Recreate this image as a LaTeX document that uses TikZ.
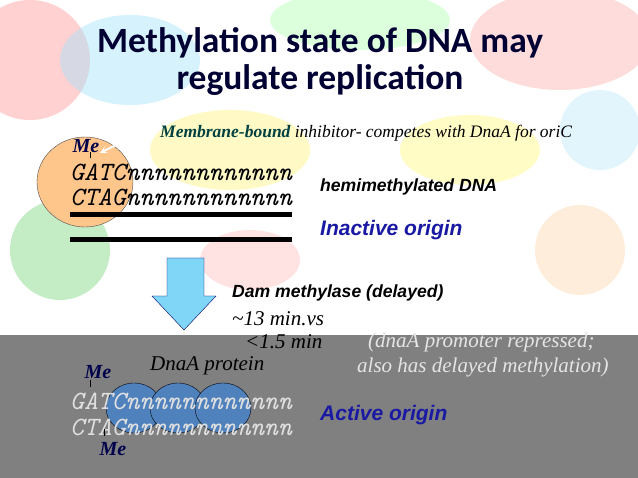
\documentclass[tikz,border=0pt]{standalone}
\usetikzlibrary{shapes.geometric}
\usepackage{fontspec}
\setmainfont{Liberation Serif}
\setsansfont{Liberation Sans}
\newfontfamily\titlefont{Carlito}
\definecolor{bgray}{HTML}{808080}
\definecolor{dblue}{HTML}{4F81BD}
\begin{document}
\begin{tikzpicture}[x=1pt,y=-1pt,
  deco/.style={opacity=0.45},
  ser/.style={font=\itshape\fontsize{21}{22}\selectfont,anchor=west,inner sep=0},
  dna/.style={font=\ttfamily\itshape\fontsize{26.4}{27}\selectfont,anchor=west,inner sep=0},
  lab/.style={font=\sffamily\bfseries\itshape\fontsize{17.6}{18}\selectfont,anchor=west,inner sep=0},
  org/.style={font=\sffamily\bfseries\itshape\fontsize{21}{22}\selectfont,anchor=west,inner sep=0,text=blue!60!black!90},
  me/.style={font=\bfseries\itshape\fontsize{20}{21}\selectfont,inner sep=0,text=blue!30!black}]
\useasboundingbox (0,0) rectangle (638,478);
\fill[white] (0,0) rectangle (638,335);
% decorative background
\fill[deco,red!80] (30,60) circle (60);
\fill[deco,yellow!90!orange] (230,150) ellipse (80 and 40);
\fill[deco,green!70!black] (60,250) circle (50);
\fill[deco,cyan!70] (130,60) ellipse (70 and 45);
\fill[deco,red!60] (560,40) ellipse (90 and 50);
\fill[deco,yellow] (470,150) ellipse (70 and 35);
\fill[deco,cyan!50] (600,130) circle (40);
\fill[deco,green!60] (360,20) ellipse (90 and 30);
\fill[deco,orange!60] (580,250) circle (45);
\fill[deco,red!50] (250,260) ellipse (50 and 30);
\fill[white,opacity=0.5] (0,0) rectangle (638,335);
\fill[bgray] (0,335) rectangle (638,478);
% title
\node[font=\titlefont\bfseries\fontsize{35.5}{37}\selectfont,text=blue!20!black,align=center] (title) at (320,62) {Methylation state of DNA may\\regulate replication};
\node[anchor=west,inner sep=0,font=\itshape\fontsize{17.5}{18}\selectfont] (memb) at (160,133) {\textcolor{teal!50!black}{\bfseries Membrane-bound} inhibitor- competes with DnaA for oriC};
% top DNA
\node[ellipse,draw=black!70,fill=orange!45,minimum width=96,minimum height=90] (inh) at (85,182) {};
\node[me] (me1) at (86,146) {Me};
\draw[thick] (90,152) -- (90,158);
\coordinate (arrs) at (130,138);
\draw[white,line width=2,-stealth] (arrs) -- (100,153);
\node[dna] (g1) at (70,172) {GATCnnnnnnnnnnnn};
\node[dna] (c1) at (70,197) {CTAGnnnnnnnnnnnn};
\draw[line width=5] (70,215) -- (292,215);
\draw[line width=5] (70,240) -- (292,240);
\node[lab] (hemi) at (320,187) {hemimethylated DNA};
\node[org] (inact) at (320,230) {Inactive origin};
% big arrow
\draw[fill=cyan!50,draw=blue!40!black] (167,258) -- (204,258) -- (204,296) -- (216,296) -- (184,330) -- (152,296) -- (167,296) -- cycle;
\node[lab] (dam) at (232,293) {Dam methylase (delayed)};
\node[ser] (t13) at (232,319) {\textasciitilde13 min.vs};
\node[ser] (t15) at (245,342) {<1.5 min};
\node[ser,text=gray!20] (prom1) at (368,342) {(dnaA promoter repressed;};
\node[ser,text=gray!20] (prom2) at (357,367) {also has delayed methylation)};
% bottom
\node[ser] (dnaa) at (150,366) {DnaA protein};
\foreach \x in {134,178,223} \fill[dblue,draw=black] (\x,408) ellipse (28 and 25);
\node[me] (me2) at (98,372) {Me};
\draw[thick] (90,380) -- (90,387);
\node[dna,text=gray!25] (g2) at (70,401) {GATCnnnnnnnnnnnn};
\node[dna,text=gray!25] (c2) at (70,427) {CTAGnnnnnnnnnnnn};
\draw[thick] (104,429) -- (104,436);
\node[me] (me3) at (113,449) {Me};
\node[org] (act) at (320,415) {Active origin};
\end{tikzpicture}
\end{document}
